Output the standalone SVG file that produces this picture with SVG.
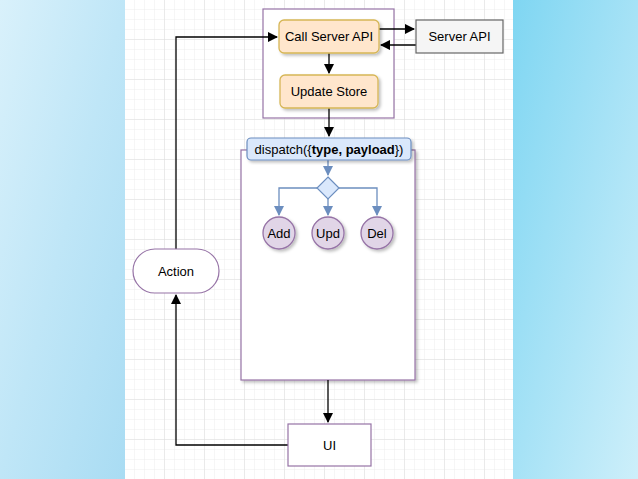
<svg xmlns="http://www.w3.org/2000/svg" width="638" height="479" viewBox="0 0 638 479">
<defs>
<pattern id="g" width="10" height="10" patternUnits="userSpaceOnUse" x="125" y="0"><path d="M10 0V10H0" fill="none" stroke="#ececec" stroke-width="1"/></pattern>
<pattern id="G" width="40" height="40" patternUnits="userSpaceOnUse" x="125" y="0"><path d="M40 0V40H0" fill="none" stroke="#dedede" stroke-width="1"/></pattern>
<linearGradient id="bl" x1="0" y1="0" x2="1" y2="1"><stop offset="0" stop-color="#d9f1fb"/><stop offset="0.5" stop-color="#bfe6f7"/><stop offset="1" stop-color="#a9dcf3"/></linearGradient>
<linearGradient id="br" x1="0" y1="0" x2="1" y2="1"><stop offset="0" stop-color="#7fd6f2"/><stop offset="0.5" stop-color="#a6e2f6"/><stop offset="1" stop-color="#cdeffa"/></linearGradient>
<marker id="a" viewBox="0 0 10 10" refX="9" refY="5" markerWidth="8" markerHeight="8" orient="auto"><path d="M0 0L10 5L0 10z" fill="#000"/></marker>
<marker id="b" viewBox="0 0 10 10" refX="9" refY="5" markerWidth="8" markerHeight="8" orient="auto"><path d="M0 0L10 5L0 10z" fill="#6c8ebf"/></marker>
<filter id="s" x="-10%" y="-10%" width="130%" height="130%"><feDropShadow dx="2" dy="2" stdDeviation="1.5" flood-color="#000" flood-opacity="0.25"/></filter>
</defs>
<style>
text{font-family:"Liberation Sans",Arial,sans-serif;font-size:13px;text-anchor:middle;fill:#000}
.c{fill:none;stroke:#000;stroke-width:1.3}
.cb{fill:none;stroke:#6c8ebf;stroke-width:1.3}
.o{fill:#ffe6cc;stroke:#d6b656;stroke-width:1.3}
.p{fill:#e1d5e7;stroke:#9673a6;stroke-width:1.3}
</style>
<rect width="125" height="479" fill="url(#bl)"/>
<rect x="513" width="125" height="479" fill="url(#br)"/>
<rect x="125" width="388" height="479" fill="#fff"/>
<rect x="125" width="388" height="479" fill="url(#g)"/>
<rect x="125" width="388" height="479" fill="url(#G)"/>
<g id="group"><rect x="263" y="9" width="131" height="109" fill="#fff" stroke="#9673a6" stroke-width="1.2"/></g>
<g id="container"><rect x="241" y="150" width="174" height="230" fill="#fff" stroke="#9673a6" stroke-width="1.2" filter="url(#s)"/></g>
<g id="connectors">
<path class="c" d="M379 29H414" marker-end="url(#a)"/>
<path class="c" d="M416 45H381" marker-end="url(#a)"/>
<path class="c" d="M329 53V73" marker-end="url(#a)"/>
<path class="c" d="M329 108V136" marker-end="url(#a)"/>
<path class="cb" d="M328 160V175" marker-end="url(#b)"/>
<path class="cb" d="M317 188H279V215" marker-end="url(#b)"/>
<path class="cb" d="M328 199V215" marker-end="url(#b)"/>
<path class="cb" d="M339 188H377V215" marker-end="url(#b)"/>
<path class="c" d="M328 380V422" marker-end="url(#a)"/>
<path class="c" d="M288 445H176V295" marker-end="url(#a)"/>
<path class="c" d="M176 249V37H277" marker-end="url(#a)"/>
</g>
<g id="callapi"><rect class="o" x="279" y="20" width="100" height="33" rx="5" filter="url(#s)"/><text x="329" y="41">Call Server API</text></g>
<g id="update"><rect class="o" x="280" y="75" width="98" height="33" rx="5" filter="url(#s)"/><text x="329" y="96">Update Store</text></g>
<g id="server"><rect x="416" y="20" width="87" height="33" fill="#f5f5f5" stroke="#666" stroke-width="1.2"/><text x="459.5" y="41">Server API</text></g>
<g id="dispatch"><rect x="247" y="138" width="164" height="22" rx="4" fill="#dae8fc" stroke="#6c8ebf" stroke-width="1.2" filter="url(#s)"/><text x="329" y="154">dispatch({<tspan font-weight="bold">type, payload</tspan>})</text></g>
<g id="diamond"><path d="M328 177L339 188L328 199L317 188z" fill="#dae8fc" stroke="#6c8ebf" stroke-width="1.2"/></g>
<g id="add"><circle class="p" cx="279" cy="233" r="16" filter="url(#s)"/><text x="279" y="238">Add</text></g>
<g id="upd"><circle class="p" cx="328" cy="233" r="16" filter="url(#s)"/><text x="328" y="238">Upd</text></g>
<g id="del"><circle class="p" cx="377" cy="233" r="16" filter="url(#s)"/><text x="377" y="238">Del</text></g>
<g id="ui"><rect x="288" y="424" width="83" height="42" fill="#fff" stroke="#9673a6" stroke-width="1.2"/><text x="329.5" y="450">UI</text></g>
<g id="action"><rect x="133" y="249" width="86" height="44" rx="22" fill="#fff" stroke="#9673a6" stroke-width="1.2"/><text x="176" y="276">Action</text></g>
</svg>
